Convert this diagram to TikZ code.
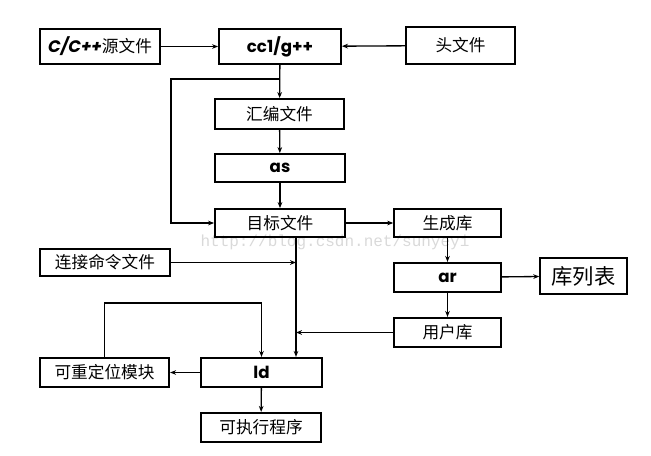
\documentclass[tikz,border=0pt]{standalone}
\usepackage{fontspec}
\newfontfamily\cjkfont{Noto Sans CJK SC}
\newfontfamily\latfont{Poppins}
\newfontfamily\wmfont{Liberation Mono}
\usetikzlibrary{arrows.meta}

\begin{document}
\begin{tikzpicture}[
  x=0.75pt,
  y=-0.75pt,
  font=\cjkfont\fontsize{12.5}{14}\selectfont,
  box/.style={
    draw,
    line width=1.4pt,
    inner sep=0pt
  },
  tool/.style={
    font=\latfont\bfseries\fontsize{12.5}{14}\selectfont
  },
  >={Stealth[length=4.5pt,width=3.5pt]},
  line width=1pt
  ]
  \useasboundingbox (0, 0) rectangle (651, 455);

  \node [gray!30, font=\wmfont\fontsize{12}{14}\selectfont] (mark) at (335, 242) {http://blog.csdn.net/sunyeyi};

  \node [box, minimum width=90pt, minimum height=26pt] (Src) at (100, 46.5) {{\latfont\bfseries\itshape C/C++}源文件};
  \node [box, tool, minimum width=91.5pt, minimum height=26pt] (Cc) at (280, 46.5) {cc1/g++};
  \node [box, minimum width=82pt, minimum height=28pt] (Head) at (460.5, 45.5) {头文件};
  \node [box, minimum width=97pt, minimum height=22.5pt] (Asm) at (279.5, 114) {汇编文件};
  \node [box, tool, minimum width=97.5pt, minimum height=21pt] (As) at (280, 168) {as};
  \node [box, minimum width=97.5pt, minimum height=21pt] (Obj) at (280, 223) {目标文件};
  \node [box, minimum width=80pt, minimum height=21pt] (MakeLib) at (447.5, 223) {生成库};
  \node [box, tool, minimum width=80pt, minimum height=22pt] (Ar) at (447.5, 277.5) {ar};
  \node [box, minimum width=65pt, minimum height=27pt, font=\cjkfont\fontsize{16}{18}\selectfont] (LibList) at (583.5, 276) {库列表};
  \node [box, minimum width=97.5pt, minimum height=20pt] (LinkCmd) at (105, 262.5) {连接命令文件};
  \node [box, minimum width=80pt, minimum height=22pt] (UserLib) at (447.5, 332.5) {用户库};
  \node [box, tool, minimum width=91pt, minimum height=22pt] (Ld) at (261.5, 372.5) {ld};
  \node [box, minimum width=97pt, minimum height=22pt] (Reloc) at (104.5, 372.5) {可重定位模块};
  \node [box, minimum width=90pt, minimum height=22pt] (Exe) at (261, 427.5) {可执行程序};

  \coordinate (Split) at (280, 79);
  \coordinate (Bus) at (296, 0);

  \draw [->] (Src) to (Cc);
  \draw [->] (Head) to (Cc);
  \draw [->] (Cc) to (Asm);
  \draw [->] (Split) -- ++(-109, 0) |- (Obj.west);
  \draw [->] (Asm) to (As);
  \draw [->] (As) to (Obj);
  \draw [->] (Obj) to (MakeLib);
  \draw [->] (MakeLib) to (Ar);
  \draw [->] (Ar) to (LibList);
  \draw [->] (Ar) to (UserLib);
  \draw [->] (Obj.south -| Bus) to (Ld.north -| Bus);
  \draw [->] (LinkCmd.east) to (LinkCmd.east -| Bus);
  \draw [->] (UserLib.west) to (UserLib.west -| Bus);
  \draw [->] (Ld) to (Reloc);
  \draw [->] (Reloc.north) -- ++(0, -54) -| (Ld.north);
  \draw [->] (Ld) to (Exe);
\end{tikzpicture}
\end{document}
